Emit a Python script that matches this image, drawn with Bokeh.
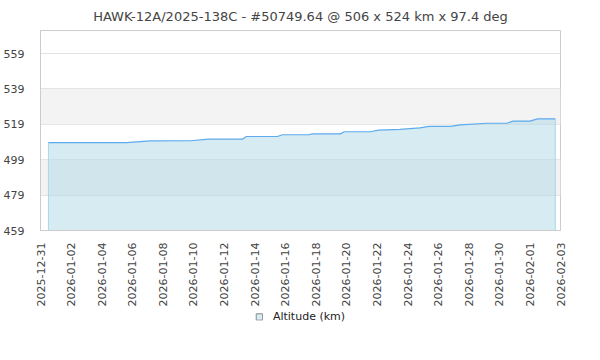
from datetime import datetime, timedelta
from bokeh.plotting import figure
from bokeh.layouts import column
from bokeh.models import FixedTicker, DatetimeTickFormatter, Range1d, Legend, LegendItem, ColumnDataSource, BoxAnnotation
from bokeh.embed import file_html
from bokeh.resources import INLINE

title_text = "HAWK-12A/2025-138C - #50749.64 @ 506 x 524 km x 97.4 deg"
series_name = "Altitude (km)"

# time offsets (days from 2025-12-31 00:00) and altitude values
day_offsets = [0.52, 5.62, 7.19, 9.8, 10.98, 13.2, 13.46, 15.49, 15.82, 17.52, 17.78,
               19.6, 19.87, 21.57, 22.1, 23.5, 24.8, 25.4, 26.8, 27.45, 29.2, 30.5,
               30.9, 32.0, 32.5, 33.66]
altitudes = [508.7, 508.7, 509.6, 509.7, 510.6, 510.6, 512.1, 512.1, 513.1, 513.1, 513.6,
             513.6, 514.8, 514.8, 515.7, 516.1, 517.0, 517.8, 517.8, 518.7, 519.6, 519.6,
             520.8, 520.8, 522.1, 522.1]
y_ticks = [459, 479, 499, 519, 539, 559]
x_start = "2025-12-31"
x_end = "2026-02-03"

t0 = datetime.strptime(x_start, "%Y-%m-%d")
t1 = datetime.strptime(x_end, "%Y-%m-%d")
times = [t0 + timedelta(days=d) for d in day_offsets]
base = [y_ticks[0]] * len(times)

tick_dates = []
t = t0
while t <= t1:
    tick_dates.append(t.timestamp() * 1000)
    t += timedelta(days=2)

p = figure(frame_width=520, frame_height=200, x_axis_type="datetime", output_backend="svg",
           toolbar_location=None, min_border_left=40, min_border_right=24,
           min_border_top=30, min_border_bottom=0)
p.x_range = Range1d(t0, t1)
p.y_range = Range1d(459, 572)

p.title.text = title_text
p.title.align = "center"
p.title.vertical_align = "top"
p.title.text_font = "DejaVu Sans"
p.title.text_font_size = "13px"
p.title.text_font_style = "normal"
p.title.text_color = "#444444"

# alternating grid bands between tick pairs
for lo, hi in zip(y_ticks[1::2], y_ticks[2::2]):
    p.add_layout(BoxAnnotation(bottom=lo, top=hi, fill_color="#f3f3f3", fill_alpha=1.0,
                               line_color=None, level="underlay"))

src = ColumnDataSource(dict(x=times, y=altitudes, b=base))
area = p.varea(x="x", y1="b", y2="y", source=src, fill_color="lightblue", fill_alpha=0.5)
# side edges of the area
p.segment(x0=[times[0], times[-1]], y0=[base[0], base[-1]], x1=[times[0], times[-1]],
          y1=[altitudes[0], altitudes[-1]], line_color="#a8d8ea", line_width=1)
p.line(x="x", y="y", source=src, line_color="#5eaaee", line_width=1.2)

p.xaxis.ticker = FixedTicker(ticks=tick_dates)
p.xaxis.formatter = DatetimeTickFormatter(days="%Y-%m-%d", months="%Y-%m-%d", hours="%Y-%m-%d")
p.xaxis.major_label_orientation = 1.5708
p.yaxis.ticker = FixedTicker(ticks=y_ticks)
for ax in (p.xaxis, p.yaxis):
    ax.major_label_text_font = "DejaVu Sans"
    ax.major_label_text_font_size = "11px"
    ax.major_label_text_color = "#444444"
    ax.axis_line_color = "#cccccc"
    ax.major_tick_line_color = None
    ax.minor_tick_line_color = None
p.xaxis.major_label_standoff = 6
p.yaxis.major_label_standoff = 10

p.xgrid.grid_line_color = None
p.ygrid.grid_line_color = "#e3e3e3"
p.outline_line_color = "#cccccc"
p.background_fill_color = "white"

# legend strip as a separate small figure; the key renderer holds no visible data
nan = float("nan")
q = figure(width=584, height=14, output_backend="svg", toolbar_location=None,
           min_border=0, x_range=(0, 1), y_range=(0, 1))
q.axis.visible = False
q.grid.visible = False
q.outline_line_color = None
key = q.quad(left=[nan], right=[nan], bottom=[nan], top=[nan], fill_color="lightblue",
             fill_alpha=0.5, line_color="#888888", line_width=1)
legend = Legend(items=[LegendItem(label=series_name, renderers=[key])],
                location="center", orientation="horizontal",
                label_text_font="DejaVu Sans", label_text_font_size="11px",
                label_text_color="#222222", glyph_width=8, glyph_height=8,
                background_fill_alpha=0.0, border_line_color=None,
                padding=0, spacing=4, margin=0, label_standoff=10, label_height=12)
q.add_layout(legend, "center")

layout = column(p, q, spacing=0)
open("out.html", "w").write(file_html(layout, INLINE))
